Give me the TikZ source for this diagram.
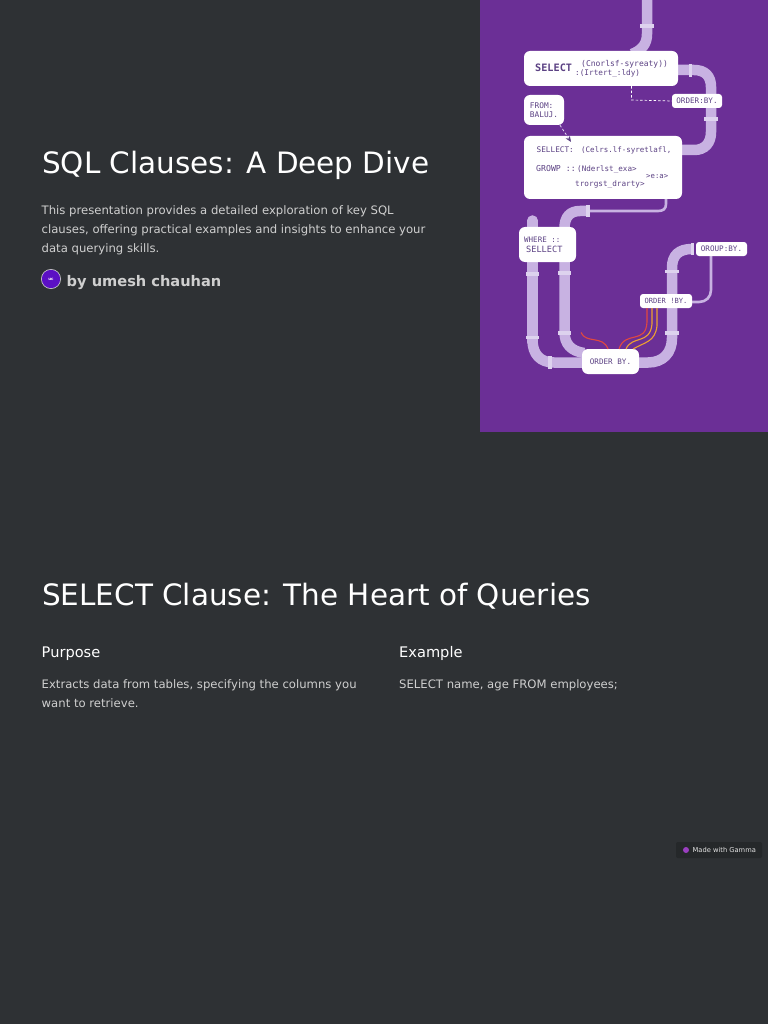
\documentclass[tikz,border=0pt]{standalone}
\usepackage{fontspec}
\setmainfont{DejaVu Sans}
\newfontfamily\codefont{DejaVu Sans Mono}
\usetikzlibrary{backgrounds,arrows.meta}
\definecolor{pagebg}{HTML}{2E3134}
\definecolor{panel}{HTML}{6B2F96}
\definecolor{pipe}{HTML}{C8B2E2}
\definecolor{flangec}{HTML}{DDD2EE}
\definecolor{ink}{HTML}{5C4284}
\definecolor{bodytx}{HTML}{CFCFCF}
\definecolor{redw}{HTML}{E2483F}
\definecolor{orangew}{HTML}{EFA030}
\definecolor{avatar}{HTML}{5B10C4}
\definecolor{badgebg}{HTML}{25282A}
\definecolor{badgeic}{HTML}{9A3FC0}
\tikzset{
  card/.style={fill=white,rounded corners=6pt,inner sep=0pt,text=ink,font=\codefont\fontsize{7.6}{9.3}\selectfont},
  smallcard/.style={card,rounded corners=3pt},
  pipeline/.style={draw=pipe,line width=10.5pt},
  thinpipe/.style={draw=pipe,line width=2.6pt},
  flange/.style={draw=flangec,line width=3.2pt},
  title/.style={anchor=base west,inner sep=0pt,text=white,font=\fontsize{29.45}{34}\selectfont},
  heading/.style={anchor=base west,inner sep=0pt,text=white,font=\fontsize{14.6}{18}\selectfont},
  bodyt/.style={anchor=north west,inner sep=0pt,align=left,text=bodytx,font=\fontsize{11.65}{19}\selectfont},
  codet/.style={inner sep=0pt,anchor=base west,text=ink},
}
\begin{document}
\begin{tikzpicture}[x=1pt,y=-1pt]
\useasboundingbox (0,0) rectangle (768,1024);
% cards
\node[card,minimum width=154pt,minimum height=35pt] (sel) at (601,68.5) {};
\node[smallcard,minimum width=50pt,minimum height=14pt] (ordera) at (697,101) {ORDER:BY.};
\node[card,minimum width=40pt,minimum height=30pt,align=left,font=\codefont\fontsize{7.8}{9.2}\selectfont] (from) at (544,110) {FROM:\\BALUJ.};
\node[card,minimum width=158pt,minimum height=63pt] (sell) at (603,167.5) {};
\node[card,minimum width=57pt,minimum height=35pt] (where) at (547.5,244.5) {};
\node[card,minimum width=57pt,minimum height=25pt] (orderc) at (610.5,361.5) {ORDER BY.};
\node[smallcard,minimum width=52pt,minimum height=14pt,font=\codefont\fontsize{7.1}{9}\selectfont] (orderb) at (666,301) {ORDER !BY.};
\node[smallcard,minimum width=51pt,minimum height=14pt] (group) at (721.5,249) {OROUP:BY.};
% card texts
\node[codet,font=\codefont\bfseries\fontsize{10.2}{11}\selectfont] (t1) at (535,72) {SELECT};
\node[codet,font=\codefont\fontsize{8}{9}\selectfont] (t2) at (581,66.5) {(Cnorlsf-syreaty))};
\node[codet,font=\codefont\fontsize{7.7}{9}\selectfont] (t3) at (575,75.5) {:(Irtert\_:ldy)};
\node[codet,font=\codefont\fontsize{7.7}{9}\selectfont] (t4) at (536.5,152.5) {SELLECT:};
\node[codet,font=\codefont\fontsize{7.5}{9}\selectfont] (t5) at (581,152.5) {(Celrs.lf-syretlafl,};
\node[codet,font=\codefont\fontsize{8.2}{9}\selectfont] (t6) at (536,172) {GROWP ::};
\node[codet,font=\codefont\fontsize{7.6}{9}\selectfont] (t7) at (577,172) {(Nderlst\_exa>};
\node[codet,font=\codefont\fontsize{7.3}{9}\selectfont] (t8) at (646,178.5) {>e:a>};
\node[codet,font=\codefont\fontsize{7.7}{9}\selectfont] (t9) at (575,186.5) {trorgst\_drarty>};
\node[codet,font=\codefont\fontsize{7.5}{9}\selectfont] (t10) at (524,242) {WHERE ::};
\node[codet,font=\codefont\fontsize{8.6}{9}\selectfont] (t11) at (526,252) {SELLECT};
% texts of the page
\node[title] (h1) at (42,173.5) {SQL Clauses: A Deep Dive};
\node[bodyt] (b1) at (41.5,205) {This presentation provides a detailed exploration of key SQL\\clauses, offering practical examples and insights to enhance your\\data querying skills.};
\node[circle,fill=white!75!pagebg,minimum size=20pt,inner sep=0pt] (avring) at (51,279) {};
\node[circle,fill=avatar,minimum size=18.4pt,inner sep=0pt,text=white,font=\bfseries\fontsize{4}{4}\selectfont] (av) at (51,279) {uc};
\node[anchor=base west,inner sep=0pt,text=bodytx,font=\bfseries\fontsize{14.6}{18}\selectfont] (by) at (66.5,286) {by umesh chauhan};
\node[title] (h2) at (42,605) {SELECT Clause: The Heart of Queries};
\node[heading] (p1) at (41.5,657) {Purpose};
\node[heading] (p2) at (399,657) {Example};
\node[bodyt] (b2) at (41.5,679) {Extracts data from tables, specifying the columns you\\want to retrieve.};
\node[bodyt] (b3) at (399,679) {SELECT name, age FROM employees;};
% badge
\node[fill=badgebg,rounded corners=2pt,minimum width=86pt,minimum height=16pt,inner sep=0pt] (badge) at (719,850) {};
\node[anchor=west,inner sep=0pt,text=white!90!black,font=\fontsize{6.7}{8}\selectfont] (badget) at (692.5,850) {Made with Gamma};
\node[circle,fill=badgeic,minimum size=6pt,inner sep=0pt] (badgei) at (686,850) {};
\begin{scope}[on background layer]
  \fill[pagebg] (0,0) rectangle (768,1024);
  \fill[panel] (480,0) rectangle (768,432);
  % top inlet
  \coordinate (inlet) at (647,-2);
  \draw[pipeline] (inlet) -- (647,34) .. controls (647,44) and (642,50) .. (632,54);
  % right loop
  \draw[pipeline] (672,70) -- (694,70) .. controls (705,70) and (711,76) .. (711,87) -- (711,132) .. controls (711,143) and (705,150) .. (694,150) -- (676,150);
  % from lower card to the U
  \draw[thinpipe] (666,195) -- (666,204) .. controls (666,209) and (663,211) .. (658,211) -- (588,211);
  \draw[pipeline] (589,211) -- (580,211) .. controls (570,211) and (564.5,217) .. (564.5,228) -- (564.5,332) .. controls (564.5,344) and (571,351) .. (584,353);
  % left outer pipe
  \draw[pipeline,line cap=round] (532.5,220.5) -- (532.5,342);
  \draw[pipeline] (532.5,340) .. controls (532.5,354) and (540,362.5) .. (554,362.5) -- (590,362.5);
  % right pipe
  \draw[pipeline] (630,362.5) -- (648,362.5) .. controls (663,362.5) and (672,353) .. (672,338) -- (672,268) .. controls (672,255) and (679,249) .. (692,249);
  \draw[thinpipe] (711,252) -- (711,290) .. controls (711,297) and (706,302) .. (699,302) -- (688,302);
  % flanges
  \draw[flange] (640,26) -- (654,26);
  \draw[flange] (690.5,64) -- (690.5,77);
  \draw[flange] (704,119) -- (718,119);
  \draw[flange] (588,205) -- (588,217);
  \draw[flange] (526,274) -- (539,274);
  \draw[flange] (526,337.5) -- (539,337.5);
  \draw[flange] (558,273) -- (571,273);
  \draw[flange] (558,333) -- (571,333);
  \draw[flange] (550,356) -- (550,369);
  \draw[flange] (665,271.5) -- (679,271.5);
  \draw[flange] (665,333) -- (679,333);
  \draw[flange,line width=3.6pt] (692.5,243) -- (692.5,255);
\end{scope}
% wires
\draw[redw,line width=1.1pt] (581,332.5) .. controls (586,344) and (603,335) .. (608,349);
\draw[redw,line width=1.1pt] (647,308) -- (647,322) .. controls (646,345) and (625,330) .. (619,349);
\draw[orangew,line width=1.1pt] (652,308) -- (652,324) .. controls (650,345) and (632,335) .. (626,349);
\draw[orangew,line width=1.1pt] (657,308) -- (657,326) .. controls (655,342) and (645,342) .. (633,349);
% dashed links
\draw[white,line width=.7pt,dash pattern=on 2.5pt off 2pt] (sel.south -| 631.5,0) -- (631.5,100) -- (ordera.west);
\draw[flangec,line width=.8pt,dash pattern=on 2.5pt off 2pt,-{Stealth[length=6pt,width=5pt,color=ink]}] (from.south -| 560,0) -- (571,142);
\end{tikzpicture}
\end{document}
